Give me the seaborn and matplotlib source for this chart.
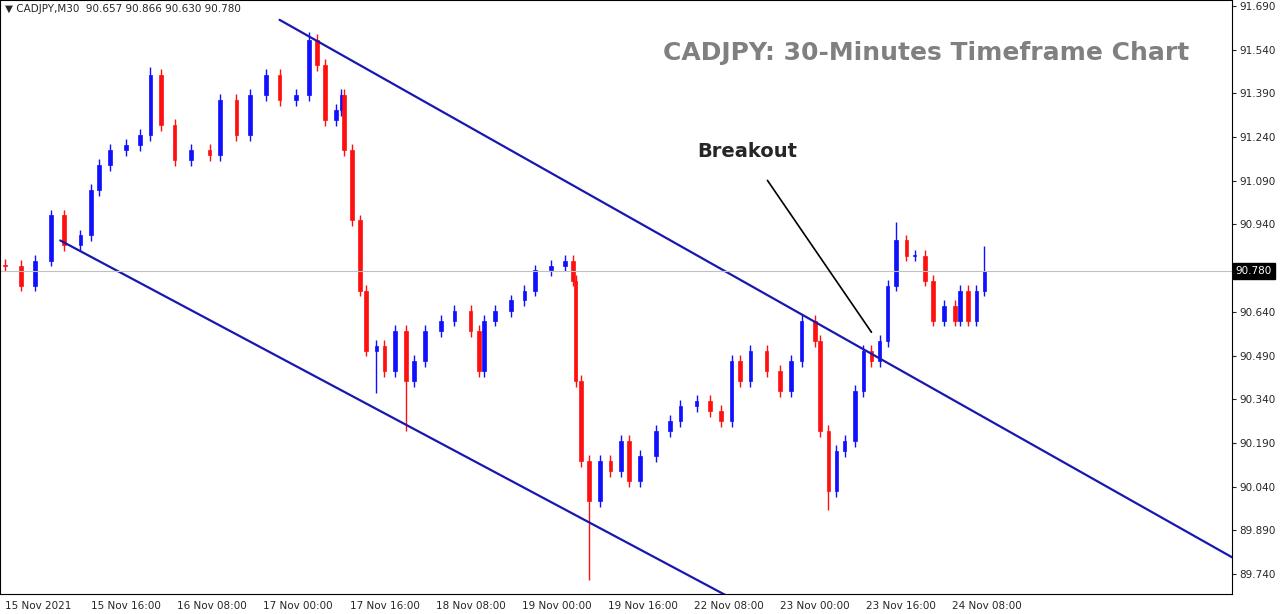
import matplotlib
matplotlib.use("Agg")
import matplotlib.pyplot as plt
import seaborn as sns
import numpy as np

sns.set_style("white")
plt.rcParams['font.family'] = ['DejaVu Sans']

bars = [0,6,11,17,22,28,32,35,39,45,50,54,58,63,69,76,80,86,91,97,102,108,113,116,119,123,125,126,129,132,
        134,138,141,145,149,152,156,162,167,173,176,178,182,188,193,197,203,208,211,212,214,217,221,225,229,232,236,242,247,251,
        257,262,266,270,273,277,283,288,292,296,301,303,306,309,312,316,319,322,325,328,331,335,338,342,345,349,353,355,358,361,364]
closes = [90.799,90.730,90.816,90.971,90.868,90.902,91.057,91.143,91.195,91.212,91.246,91.453,91.281,91.160,91.195,91.177,91.367,91.246,91.384,91.453,
          91.367,91.384,91.573,91.487,91.298,91.332,91.384,91.195,90.954,90.713,90.507,90.524,90.438,90.575,90.403,90.472,90.575,90.610,90.644,90.575,
          90.438,90.610,90.644,90.679,90.713,90.782,90.799,90.816,90.747,90.403,90.128,89.991,90.128,90.094,90.197,90.059,90.146,90.232,90.266,90.317,
          90.335,90.300,90.266,90.472,90.403,90.507,90.438,90.369,90.472,90.610,90.541,90.232,90.025,90.163,90.197,90.369,90.507,90.472,90.541,90.730,
          90.885,90.833,90.833,90.747,90.610,90.661,90.610,90.713,90.610,90.713,90.780]
extreme_high = {22: 91.600, 80: 90.950, 90: 90.866, 11: 91.480}
extreme_low = {51: 89.720, 72: 89.960, 31: 90.360, 34: 90.230}
y_ticks = [91.690,91.540,91.390,91.240,91.090,90.940,90.790,90.640,90.490,90.340,90.190,90.040,89.890,89.740]
x_labels = ["15 Nov 2021","15 Nov 16:00","16 Nov 08:00","17 Nov 00:00","17 Nov 16:00","18 Nov 08:00",
            "19 Nov 00:00","19 Nov 16:00","22 Nov 08:00","23 Nov 00:00","23 Nov 16:00","24 Nov 08:00"]
last_price = 90.780

n = min(len(bars), len(closes))
bars, closes = bars[:n], closes[:n]
opens = [90.80] + closes[:-1]

fig = plt.figure(figsize=(12.8, 6.14), dpi=100)
ax = fig.add_axes([0.0, 0.0326, 0.9625, 0.9674])
bull, bear = "#1010ff", "#ff1010"
for i in range(n):
    o, c, b = opens[i], closes[i], bars[i]
    col = bull if c >= o else bear
    hi = extreme_high.get(i, max(o, c) + 0.02)
    lo = extreme_low.get(i, min(o, c) - 0.02)
    ax.vlines(b, lo, hi, color=col, lw=1)
    ax.bar(b, abs(c - o) if abs(c - o) > 0.003 else 0.003, bottom=min(o, c), width=1.4, color=col, edgecolor=col, lw=0.5)

# channel lines
ax.plot([102, 456], [91.642, 89.798], color="#1818b0", lw=1.6)
ax.plot([20.5, 268], [90.885, 89.667], color="#1818b0", lw=1.6)
ax.axhline(last_price, color="#c0c0c0", lw=0.8)

ax.set_xlim(-1.9, 456)
ax.set_ylim(89.672, 91.71)
ax.set_xticks([i * 32 for i in range(len(x_labels))])
ax.set_xticklabels(x_labels, ha="left", fontsize=7.5)
ax.yaxis.tick_right()
ax.set_yticks(y_ticks)
ax.set_yticklabels(["" if abs(v - last_price) < 0.02 else f"{v:.3f}" for v in y_ticks], fontsize=7.5)
ax.tick_params(axis="both", length=3, pad=2)
for s in ax.spines.values():
    s.set_color("black"); s.set_linewidth(0.8)

ax.text(1.003, last_price, f"{last_price:.3f}", transform=ax.get_yaxis_transform(),
        fontsize=7.5, color="white", va="center", ha="left",
        bbox=dict(boxstyle="square,pad=0.25", fc="black", ec="black"))
ax.text(0.004, 0.993, "▼ CADJPY,M30  90.657 90.866 90.630 90.780", transform=ax.transAxes,
        fontsize=7.5, va="top", ha="left")
ax.text(0.752, 0.91, "CADJPY: 30-Minutes Timeframe Chart", transform=ax.transAxes,
        fontsize=18, fontweight="bold", color="#808080", ha="center", va="center")
ax.annotate("Breakout", xy=(322, 90.57), xytext=(276, 91.19), fontsize=14, fontweight="bold",
            ha="center", va="center",
            arrowprops=dict(arrowstyle="-", color="black", lw=1.2, shrinkA=14, shrinkB=0))

fig.savefig("out.png", dpi=100)
